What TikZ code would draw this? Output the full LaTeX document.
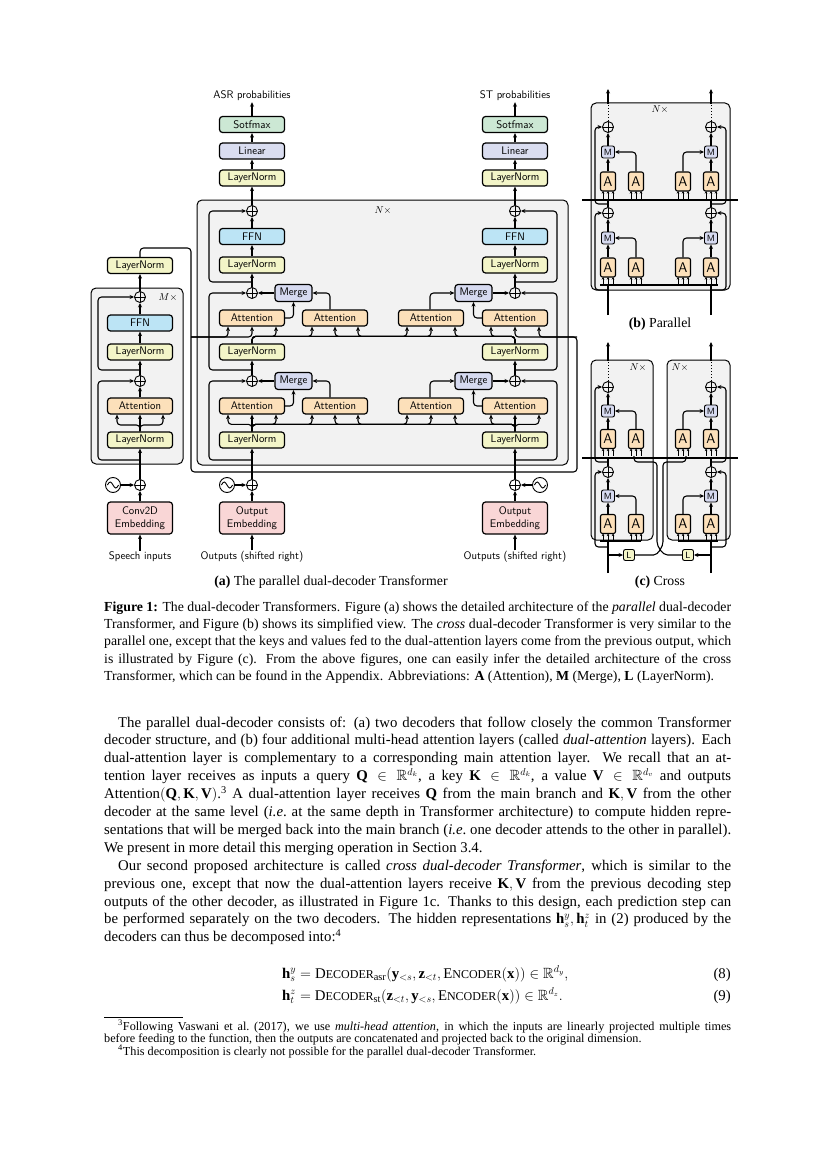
\documentclass[tikz,border=0pt]{standalone}
\usepackage{amsmath,amssymb}
\usepackage{fontspec}
\setmainfont{Liberation Serif}
\usetikzlibrary{arrows.meta,calc}
\definecolor{lnc}{RGB}{243,245,200}
\definecolor{smc}{RGB}{204,232,212}
\definecolor{linc}{RGB}{218,221,240}
\definecolor{ffnc}{RGB}{188,228,245}
\definecolor{attc}{RGB}{252,224,186}
\definecolor{mrgc}{RGB}{214,218,240}
\definecolor{embc}{RGB}{249,214,214}
\definecolor{bgc}{RGB}{242,242,242}
\newcommand\bodyf{\fontsize{14.8}{18}\selectfont}
\newcommand\capf{\fontsize{13.8}{17}\selectfont}
\newcommand\fnf{\fontsize{12.2}{13}\selectfont}
\newcommand\sfl{\sffamily\fontsize{11}{13}\selectfont}
\newcommand\jl[4]{\node[anchor=base west, inner sep=0pt] (#1) at (#2) {\makebox[#3][s]{#4}};}
\newcommand\pl[3]{\node[anchor=base west, inner sep=0pt] (#1) at (#2) {#3};}
\newcommand\tri[3]{\foreach \dx in {-5,0,5} {\draw[sconn] ({#1+\dx},{#2+7.5}) -- ({#1+\dx},#2);}}
\newcommand\scap[2]{\text{#1{\fontsize{12}{12}\selectfont #2}}}
\tikzset{
  blk/.style={draw, line width=1.2pt, rounded corners=3pt, minimum width=65pt, minimum height=16pt, inner sep=0pt, font=\sfl},
  lnb/.style={blk, fill=lnc},
  smb/.style={blk, fill=smc},
  linb/.style={blk, fill=linc},
  ffnb/.style={blk, fill=ffnc},
  attb/.style={blk, fill=attc},
  mrgb/.style={blk, fill=mrgc, minimum width=37pt, minimum height=17pt},
  embb/.style={blk, fill=embc, minimum height=32pt, align=center},
  ab/.style={draw, line width=1.1pt, rounded corners=2pt, fill=attc, minimum width=15pt, minimum height=19pt, inner sep=0pt, font=\sffamily\fontsize{14}{14}\selectfont},
  mb/.style={draw, line width=0.9pt, rounded corners=2pt, fill=mrgc, minimum width=13pt, minimum height=12pt, inner sep=0pt, font=\sffamily\fontsize{9}{9}\selectfont},
  lb/.style={draw, line width=0.9pt, rounded corners=2pt, fill=lnc, minimum width=11pt, minimum height=11pt, inner sep=0pt, font=\sffamily\fontsize{9}{9}\selectfont},
  lbl/.style={font=\sfl, inner sep=1pt},
  conn/.style={line width=1.1pt, -{Stealth[length=4.5pt,width=4pt]}},
  sconn/.style={line width=0.8pt, -{Stealth[length=2.6pt,width=2.6pt]}},
  wire/.style={line width=1.1pt},
  rc/.style={rounded corners=3.5pt},
  addn/.style={circle, draw, line width=0.9pt, minimum size=11pt, inner sep=0pt,
    path picture={\draw[line width=0.9pt] (path picture bounding box.north) -- (path picture bounding box.south) (path picture bounding box.west) -- (path picture bounding box.east);}},
  sinen/.style={circle, draw, line width=0.9pt, minimum size=15pt, inner sep=0pt,
    path picture={\draw[line width=0.9pt] ([xshift=-5.6pt]path picture bounding box.center) sin ++(2.8pt,3pt) cos ++(2.8pt,-3pt) sin ++(2.8pt,-3pt) cos ++(2.8pt,3pt);}},
  bg/.style={draw, line width=1pt, fill=bgc, rounded corners=5pt, inner sep=0pt},
}
\begin{document}
\begin{tikzpicture}[x=1pt,y=-1pt]
\useasboundingbox (0,0) rectangle (827,1169);
% ================= panel (a) =================
\node[bg, minimum width=92pt, minimum height=176pt] (encbox) at (137,376) {};
\node[bg, minimum width=371pt, minimum height=265pt] (decbox) at (382.5,332.5) {};
\node[inner sep=0pt] (mx) at (168,297) {$M\times$};
\node[inner sep=0pt] (nx) at (383,211) {$N\times$};
% encoder
\node[lnb] (encln) at (140,265.5) {LayerNorm};
\node[addn] (eadd2) at (140,297) {};
\node[ffnb] (effn) at (140,323) {FFN};
\node[lnb] (eln2) at (140,352) {LayerNorm};
\node[addn] (eadd1) at (140,381) {};
\node[attb] (eatt) at (140,406) {Attention};
\node[lnb] (eln1) at (140,440) {LayerNorm};
\node[addn] (eadd0) at (140,485) {};
\node[sinen] (esin) at (113,485) {};
\node[embb] (eemb) at (140,518) {Conv2D\\Embedding};
\node[lbl] (ein) at (140,557) {Speech inputs};
\draw[conn] (ein) -- (eemb);
\draw[conn] (eemb) -- (eadd0);
\draw[conn] (esin) -- (eadd0);
\draw[conn] (eadd0) -- (eln1);
\draw[conn, rc] (140,460) -| (98,381) -- (eadd1.west);
\draw[conn, rc] (eln1.north) |- (117,425) -- ($(eatt.south)+(-23,0)$);
\draw[conn, rc] (eln1.north) |- (163,425) -- ($(eatt.south)+(23,0)$);
\draw[conn] (eln1) -- (eatt);
\draw[conn] (eatt) -- (eadd1);
\draw[conn] (eadd1) -- (eln2);
\draw[conn] (eln2) -- (effn);
\draw[conn] (effn) -- (eadd2);
\draw[conn, rc] (140,370) -| (98,297) -- (eadd2.west);
\draw[conn] (eadd2) -- (encln);
% decoder nodes (left a, right b)
\foreach \s/\X/\D/\G/\S in {a/252/335/293.5/227, b/515/431/473.5/540} {
  \node[smb] (sm\s) at (\X,124.5) {Sotfmax};
  \node[linb] (lin\s) at (\X,151) {Linear};
  \node[lnb] (lnT\s) at (\X,178) {LayerNorm};
  \node[addn] (addF\s) at (\X,211) {};
  \node[ffnb] (ffn\s) at (\X,236.5) {FFN};
  \node[lnb] (lnF\s) at (\X,265) {LayerNorm};
  \node[addn] (addU\s) at (\X,293) {};
  \node[mrgb] (mrgU\s) at (\G,293) {Merge};
  \node[attb] (attU\s) at (\X,318) {Attention};
  \node[attb] (datU\s) at (\D,318) {Attention};
  \node[lnb] (lnU\s) at (\X,352) {LayerNorm};
  \node[addn] (addL\s) at (\X,381) {};
  \node[mrgb] (mrgL\s) at (\G,381) {Merge};
  \node[attb] (attL\s) at (\X,406) {Attention};
  \node[attb] (datL\s) at (\D,406) {Attention};
  \node[lnb] (lnL\s) at (\X,440) {LayerNorm};
  \node[addn] (addE\s) at (\X,485) {};
  \node[sinen] (sin\s) at (\S,485) {};
  \node[embb] (emb\s) at (\X,518) {Output\\Embedding};
  \node[lbl] (in\s) at (\X,557) {Outputs (shifted right)};
  \draw[conn] (in\s) -- (emb\s);
  \draw[conn] (emb\s) -- (addE\s);
  \draw[conn] (sin\s) -- (addE\s);
  \draw[conn] (addE\s) -- (lnL\s);
  \draw[conn] (lnL\s) -- (attL\s);
  \draw[conn] (addL\s) -- (lnU\s);
  \draw[conn] (addU\s) -- (lnF\s);
  \draw[conn] (lnF\s) -- (ffn\s);
  \draw[conn] (ffn\s) -- (addF\s);
  \draw[conn] (addF\s) -- (lnT\s);
  \draw[conn] (lnT\s) -- (lin\s);
  \draw[conn] (lin\s) -- (sm\s);
  \draw[conn] (mrgU\s) -- (addU\s);
  \draw[conn] (mrgL\s) -- (addL\s);
}
\node[lbl] (outa) at (252,96) {ASR probabilities};
\node[lbl] (outb) at (515,96) {ST probabilities};
\draw[conn] (sma) -- (outa);
\draw[conn] (smb) -- (outb);
% encoder output line
\draw[conn, rc] (encln.north) |- (191,248) -- (191,472) -| (577,337) -| ($(attUb.south)+(24,0)$);
% residuals
\draw[conn, rc] (252,460) -| (209,381) -- (addLa.west);
\draw[conn, rc] (252,370) -| (209,293) -- (addUa.west);
\draw[conn, rc] (252,282) -| (209,211) -- (addFa.west);
\draw[conn, rc] (515,460) -| (557,381) -- (addLb.east);
\draw[conn, rc] (515,370) -| (557,293) -- (addUb.east);
\draw[conn, rc] (515,282) -| (557,211) -- (addFb.east);
% merges
\draw[conn, rc] (attUa.east) -| (mrgUa.south);
\draw[conn, rc] (attLa.east) -| (mrgLa.south);
\draw[conn, rc] (attUb.west) -| (mrgUb.south);
\draw[conn, rc] (attLb.west) -| (mrgLb.south);
\draw[conn, rc] ($(datUa.north)+(-5,0)$) |- (mrgUa.east);
\draw[conn, rc] ($(datLa.north)+(-5,0)$) |- (mrgLa.east);
\draw[conn, rc] ($(datUb.north)+(-1,0)$) |- (mrgUb.west);
\draw[conn, rc] ($(datLb.north)+(-1,0)$) |- (mrgLb.west);
% lower block inputs
\foreach \dx in {-24,24,60,155,179} {\draw[conn, rc] (lnLa.north) |- ($(lnLa.north)+(\dx,-7)$) -- ($(attLa.south)+(\dx,0)$);}
\foreach \dx in {24,-24,-60,-157,-180} {\draw[conn, rc] (lnLb.north) |- ($(lnLb.north)+(\dx,-7)$) -- ($(attLb.south)+(\dx,0)$);}
% upper block inputs
\foreach \dx in {24,60,155,179} {\draw[conn, rc] (lnUa.north) |- ($(lnUa.north)+(\dx,-7)$) -- ($(attUa.south)+(\dx,0)$);}
\foreach \dx in {-24,-60,-157,-180} {\draw[conn, rc] (lnUb.north) |- ($(lnUb.north)+(\dx,-7)$) -- ($(attUb.south)+(\dx,0)$);}
\draw[conn, rc] (191,337) -| ($(attUa.south)+(-24,0)$);
\draw[conn, rc] (191,337) -| (attUa.south);
\draw[conn, rc] (577,337) -| (attUb.south);
% ================= panel (b) =================
\node[bg, minimum width=139pt, minimum height=187pt] (pbbox) at (660.5,196.5) {};
\node[inner sep=0pt] (pbN) at (660,110) {$N\times$};
\foreach \y/\t in {0/T,86/B} {
  \node[addn] (pb\t1) at (608,127+\y) {};
  \node[addn] (pb\t2) at (711,127+\y) {};
  \node[mb] (pbM\t1) at (608,152+\y) {M};
  \node[mb] (pbM\t2) at (711,152+\y) {M};
  \node[ab] (pbA\t1) at (608,181.5+\y) {A};
  \node[ab] (pbA\t2) at (636,181.5+\y) {A};
  \node[ab] (pbA\t3) at (683,181.5+\y) {A};
  \node[ab] (pbA\t4) at (711,181.5+\y) {A};
  \draw[conn] (pbM\t1) -- (pb\t1);
  \draw[conn] (pbM\t2) -- (pb\t2);
  \draw[conn] (pbA\t1) -- (pbM\t1);
  \draw[conn] (pbA\t4) -- (pbM\t2);
  \draw[conn, rc] (pbA\t2.north) |- (pbM\t1.east);
  \draw[conn, rc] (pbA\t3.north) |- (pbM\t2.west);
  \draw[conn, rc] (608,204+\y) -| (595,127+\y) -- (pb\t1.west);
  \draw[conn, rc] (711,204+\y) -| (726,127+\y) -- (pb\t2.east);
  \tri{608}{191+\y}{}\tri{636}{191+\y}{}\tri{683}{191+\y}{}\tri{711}{191+\y}{}
}
\draw[wire] (pbB1.north) -- (608,200);
\draw[wire] (pbB2.north) -- (711,200);
\draw[wire] (582,200) -- (738,200);
\draw[wire] (600,285) -- (718,285);
\draw[wire] (608,315) -- (608,285);
\draw[wire] (711,315) -- (711,285);
\draw[dotted, line width=1pt] (pbT1.north) -- (608,104);
\draw[dotted, line width=1pt] (pbT2.north) -- (711,104);
\coordinate (pbo1) at (608,89);
\coordinate (pbo2) at (711,89);
\draw[conn] (608,104) -- (pbo1);
\draw[conn] (711,104) -- (pbo2);
\node[inner sep=0pt, font=\capf] (capb) at (660,324) {\textbf{(b)} Parallel};
% ================= panel (c) =================
\node[bg, minimum width=62pt, minimum height=180pt] (pcbox1) at (622,450) {};
\node[bg, minimum width=63pt, minimum height=180pt] (pcbox2) at (698.5,450) {};
\node[inner sep=0pt] (pcN1) at (638,367) {$N\times$};
\node[inner sep=0pt] (pcN2) at (680,367) {$N\times$};
\foreach \y/\t in {0/T,85/B} {
  \node[addn] (pc\t1) at (608,387+\y) {};
  \node[addn] (pc\t2) at (711,387+\y) {};
  \node[mb] (pcM\t1) at (608,411+\y) {M};
  \node[mb] (pcM\t2) at (711,411+\y) {M};
  \node[ab] (pcA\t1) at (608,439+\y) {A};
  \node[ab] (pcA\t2) at (636,439+\y) {A};
  \node[ab] (pcA\t3) at (683,439+\y) {A};
  \node[ab] (pcA\t4) at (711,439+\y) {A};
  \draw[conn] (pcM\t1) -- (pc\t1);
  \draw[conn] (pcM\t2) -- (pc\t2);
  \draw[conn] (pcA\t1) -- (pcM\t1);
  \draw[conn] (pcA\t4) -- (pcM\t2);
  \draw[conn, rc] (pcA\t2.north) |- (pcM\t1.east);
  \draw[conn, rc] (pcA\t3.north) |- (pcM\t2.west);
  \draw[conn, rc] (608,462+\y) -| (595,387+\y) -- (pc\t1.west);
  \draw[conn, rc] (711,462+\y) -| (726,387+\y) -- (pc\t2.east);
  \tri{608}{448.5+\y}{}\tri{636}{448.5+\y}{}\tri{683}{448.5+\y}{}\tri{711}{448.5+\y}{}
}
\draw[wire] (pcB1.north) -- (608,458);
\draw[wire] (pcB2.north) -- (711,458);
\draw[wire] (582,458) -- (738,458);
\node[lb] (pcL1) at (629,555) {L};
\node[lb] (pcL2) at (688,555) {L};
\draw[wire] (608,573) -- (608,541);
\draw[wire] (711,573) -- (711,541);
\draw[conn] (608,555) -- (pcL1);
\draw[conn] (711,555) -- (pcL2);
\draw[wire, rc] (pcL1.east) -- (650,555) to[out=0,in=-90] (663,538) -- (663,462) -| (686,456);
\draw[wire, rc] (pcL2.west) -- (671,555) to[out=180,in=-90] (657,538) -- (657,462) -| (634,456);
\draw[wire] (600,541) -- (641,541);
\draw[wire] (678,541) -- (718,541);
\draw[dotted, line width=1pt] (pcT1.north) -- (608,361);
\draw[dotted, line width=1pt] (pcT2.north) -- (711,361);
\coordinate (pco1) at (608,342);
\coordinate (pco2) at (711,342);
\draw[conn] (608,361) -- (pco1);
\draw[conn] (711,361) -- (pco2);
\node[inner sep=0pt, font=\capf] (capc) at (660,582) {\textbf{(c)} Cross};
\node[inner sep=0pt, font=\capf] (capa) at (331,582) {\textbf{(a)} The parallel dual-decoder Transformer};
% ================= text =================
\begin{scope}[font=\capf]
\jl{c1}{104,611}{627pt}{\textbf{Figure 1:} The dual-decoder Transformers. Figure (a) shows the detailed architecture of the \textit{parallel} dual-decoder}
\jl{c2}{104,628}{627pt}{Transformer, and Figure (b) shows its simplified view. The \textit{cross} dual-decoder Transformer is very similar to the}
\jl{c3}{104,645}{627pt}{parallel one, except that the keys and values fed to the dual-attention layers come from the previous output, which}
\jl{c4}{104,663}{627pt}{is illustrated by Figure (c). From the above figures, one can easily infer the detailed architecture of the cross}
\pl{c5}{104,680}{Transformer, which can be found in the Appendix. Abbreviations: \textbf{A} (Attention), \textbf{M} (Merge), \textbf{L} (LayerNorm).}
\end{scope}
\begin{scope}[font=\bodyf]
\jl{p1}{118,727}{613pt}{The parallel dual-decoder consists of: (a) two decoders that follow closely the common Transformer}
\jl{p2}{104,744.9}{627pt}{decoder structure, and (b) four additional multi-head attention layers (called \textit{dual-attention} layers). Each}
\jl{p3}{104,762.8}{627pt}{dual-attention layer is complementary to a corresponding main attention layer. We recall that an at-}
\jl{p4}{104,780.7}{627pt}{tention layer receives as inputs a query $\mathbf{Q}\in\mathbb{R}^{d_k}$, a key $\mathbf{K}\in\mathbb{R}^{d_k}$, a value $\mathbf{V}\in\mathbb{R}^{d_v}$ and outputs}
\jl{p5}{104,798.6}{627pt}{$\mathrm{Attention}(\mathbf{Q},\mathbf{K},\mathbf{V})$.\textsuperscript{3} A dual-attention layer receives $\mathbf{Q}$ from the main branch and $\mathbf{K},\mathbf{V}$ from the other}
\jl{p6}{104,816.5}{627pt}{decoder at the same level (\textit{i.e}.\ at the same depth in Transformer architecture) to compute hidden repre-}
\jl{p7}{104,834.4}{627pt}{sentations that will be merged back into the main branch (\textit{i.e}.\ one decoder attends to the other in parallel).}
\pl{p8}{104,852.3}{We present in more detail this merging operation in Section 3.4.}
\jl{q1}{118,870.2}{613pt}{Our second proposed architecture is called \textit{cross dual-decoder Transformer}, which is similar to the}
\jl{q2}{104,888.1}{627pt}{previous one, except that now the dual-attention layers receive $\mathbf{K},\mathbf{V}$ from the previous decoding step}
\jl{q3}{104,906}{627pt}{outputs of the other decoder, as illustrated in Figure 1c. Thanks to this design, each prediction step can}
\jl{q4}{104,923.9}{627pt}{be performed separately on the two decoders. The hidden representations $\mathbf{h}_s^y,\mathbf{h}_t^z$ in (2) produced by the}
\pl{q5}{104,941.8}{decoders can thus be decomposed into:\textsuperscript{4}}
\pl{e8}{282,978}{$\mathbf{h}_s^y=\scap{D}{ECODER}_{\mathrm{asr}}(\mathbf{y}_{<s},\mathbf{z}_{<t},\scap{E}{NCODER}(\mathbf{x}))\in\mathbb{R}^{d_y},$}
\pl{e9}{282,1000}{$\mathbf{h}_t^z=\scap{D}{ECODER}_{\mathrm{st}}(\mathbf{z}_{<t},\mathbf{y}_{<s},\scap{E}{NCODER}(\mathbf{x}))\in\mathbb{R}^{d_z}.$}
\node[anchor=base east, inner sep=0pt] (n8) at (731,978) {(8)};
\node[anchor=base east, inner sep=0pt] (n9) at (731,1000) {(9)};
\end{scope}
\coordinate (r0) at (104,1017);
\coordinate (r1) at (183,1017);
\draw[line width=0.5pt] (r0) -- (r1);
\begin{scope}[font=\fnf]
\jl{f1}{118,1030}{613pt}{\textsuperscript{3}Following Vaswani et al.\ (2017), we use \textit{multi-head attention}, in which the inputs are linearly projected multiple times}
\pl{f2}{104,1042.5}{before feeding to the function, then the outputs are concatenated and projected back to the original dimension.}
\pl{f3}{118,1055}{\textsuperscript{4}This decomposition is clearly not possible for the parallel dual-decoder Transformer.}
\end{scope}
\end{tikzpicture}
\end{document}
